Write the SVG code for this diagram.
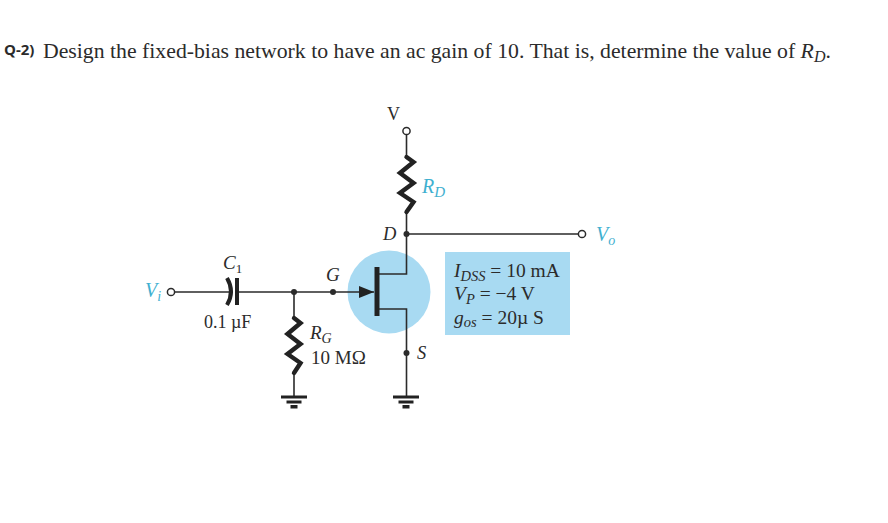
<svg xmlns="http://www.w3.org/2000/svg" width="888" height="523" viewBox="0 0 888 523">
<style>
text{font-family:"Liberation Serif","Times New Roman",serif;fill:#2b2b2b;font-size:18px}
.i{font-style:italic}
.c{fill:#3fb0d0}
.w{fill:none;stroke:#2b2b2b;stroke-width:1.6}
.r{fill:none;stroke:#222;stroke-width:4.400;stroke-linejoin:miter;stroke-linecap:round}
.o{fill:#fff;stroke:#2b2b2b;stroke-width:1.500}
.d{fill:#2b2b2b}
.g{fill:#222}
</style>
<defs>
<g id="gnd"><rect class="g" x="-13" y="-1.500" width="26" height="3"/><rect class="g" x="-7.500" y="3.500" width="15" height="3"/><rect class="g" x="-3.500" y="8" width="7" height="3.500"/></g>
</defs>
<g id="title">
<text x="4" y="55" style="font-family:'Open Sans','Noto Sans',sans-serif;font-weight:700;font-size:15px" fill="#111">Q-2)</text>
<text x="43" y="58" style="font-size:21.750px">Design the fixed-bias network to have an ac gain of 10. That is, determine the value of <tspan class="i">R</tspan><tspan class="i" dy="4" style="font-size:16px">D</tspan><tspan dy="-4">.</tspan></text>
</g>
<circle id="jfet-circle" cx="389" cy="292" r="41.500" fill="#a8daf2"/>
<g id="connectors">
<path class="w" d="M406.500 135V157M406.500 212V274H379M406.500 234H578M379 309H406.500V397"/>
<path class="w" d="M175 292H231M237 292H374"/>
<path class="w" d="M294 292V318M294 373V397"/>
<path d="M374 292L359 286V298Z" fill="#222"/>
</g>
<g id="V"><circle class="o" cx="406.500" cy="131" r="3.600"/><text x="387" y="120" style="font-size:18px">V</text></g>
<g id="RD"><path class="r" d="M406.500 157L413.500 162L400 173L413.500 183L400 193L413.500 202L406.500 212"/>
<text class="i c" x="422" y="193" style="font-size:20px">R<tspan dy="4" style="font-size:15px">D</tspan></text></g>
<g id="D"><circle class="d" cx="406.500" cy="234" r="3"/><text class="i" x="383" y="240" style="font-size:18.500px">D</text></g>
<g id="Vo"><circle class="o" cx="582" cy="234" r="3.600"/><text class="i c" x="596" y="241" style="font-size:20px">V<tspan dy="4" style="font-size:14px">o</tspan></text></g>
<g id="jfet"><rect class="g" x="374.500" y="267" width="5" height="49"/></g>
<g id="params"><rect x="445" y="252" width="125" height="83" fill="#a8daf2"/>
<text x="454" y="277" style="font-size:19.500px"><tspan class="i">I</tspan><tspan class="i" dy="4" style="font-size:14.500px">DSS</tspan><tspan dy="-4"> = 10 mA</tspan></text>
<text x="454" y="300" style="font-size:19.500px"><tspan class="i">V</tspan><tspan class="i" dy="4" style="font-size:14.500px">P</tspan><tspan dy="-4"> = −4 V</tspan></text>
<text x="454" y="324" style="font-size:19.500px"><tspan class="i">g</tspan><tspan class="i" dy="3" style="font-size:14.500px">os</tspan><tspan dy="-3"> = 20µ S</tspan></text></g>
<g id="S"><circle class="d" cx="406.500" cy="353" r="3"/><text class="i" x="417" y="359" style="font-size:18.500px">S</text></g>
<use id="gnd-s" href="#gnd" x="406" y="397"/>
<g id="Vi"><circle class="o" cx="171" cy="292" r="3.600"/><text class="i c" x="145" y="297" style="font-size:20px">V<tspan dy="4" style="font-size:14px">i</tspan></text></g>
<g id="C1"><path d="M227 278Q235 291.500 227 305" fill="none" stroke="#222" stroke-width="4"/><rect class="g" x="235" y="278" width="4" height="27"/>
<text class="i" x="223" y="269" style="font-size:19px">C<tspan dy="4" style="font-size:13px;font-style:normal">1</tspan></text>
<text x="204" y="328" style="font-size:18px">0.1 µF</text></g>
<g id="junction"><circle class="d" cx="294" cy="292" r="3"/></g>
<g id="G"><circle class="d" cx="333" cy="292" r="3"/><text class="i" x="326" y="281" style="font-size:19px">G</text></g>
<g id="RG"><path class="r" d="M294 318L300.500 323L287.500 334L300.500 344L287.500 354L300.500 363L294 373"/>
<text class="i" x="310" y="339" style="font-size:19px">R<tspan dy="4" style="font-size:14px">G</tspan></text>
<text x="311" y="364" style="font-size:19px">10 MΩ</text></g>
<use id="gnd-g" href="#gnd" x="294" y="397"/>
</svg>
